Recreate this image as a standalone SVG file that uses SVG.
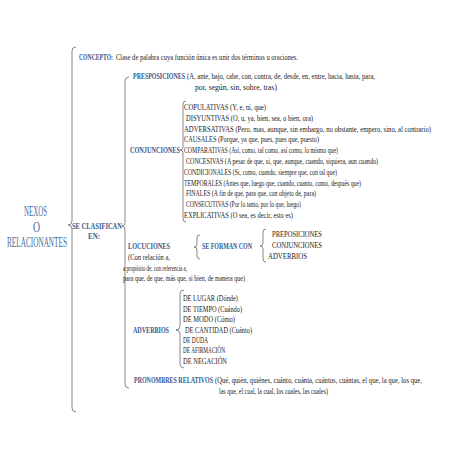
<svg xmlns="http://www.w3.org/2000/svg" width="452" height="452" viewBox="0 0 452 452">
<style>
text{font-family:"Liberation Serif","Times New Roman",serif;font-size:9.2px;fill:#222222}
.lb{fill:#35598e;font-weight:bold}
.big{fill:#4a6a9a;font-size:14px}
.br{fill:none;stroke:#6a6a6a;stroke-width:0.8}
</style>
<rect width="452" height="452" fill="#ffffff"/>
<g id="connectors">
<path class="br" d="M76,47 Q72,47 72,51 L72,221 Q72,225 68,225 Q72,225 72,229 L72,408 Q72,412 76,412"/>
<path class="br" d="M129,77 Q125,77 125,81 L125,222 Q125,226 122,226 Q125,226 125,230 L125,384 Q125,388 129,388"/>
<path class="br" d="M186,101 Q183,101 183,104 L183,147 Q183,150 180,150 Q183,150 183,153 L183,219 Q183,222 186,222"/>
<path class="br" d="M200,235 Q197,235 197,238 L197,244 Q197,247 194,247 Q197,247 197,250 L197,256 Q197,259 200,259"/>
<path class="br" d="M266,229 Q263,229 263,232 L263,243 Q263,246 260,246 Q263,246 263,249 L263,259 Q263,262 266,262"/>
<path class="br" d="M184,290 Q180,290 180,294 L180,326 Q180,330 176,330 Q180,330 180,334 L180,364 Q180,368 184,368"/>
</g>
<g id="root" transform="scale(0.5,1)">
<text class="big" x="48" y="216.5" textLength="46" lengthAdjust="spacingAndGlyphs">NEXOS</text>
<text class="big" x="66" y="232.5" textLength="14" lengthAdjust="spacingAndGlyphs">O</text>
<text class="big" x="14" y="247.5" textLength="120" lengthAdjust="spacingAndGlyphs">RELACIONANTES</text>
</g>
<g transform="scale(0.7,1)">
<g id="concepto">
<text class="lb" x="112.86" y="60" textLength="48.57" lengthAdjust="spacingAndGlyphs">CONCEPTO:</text>
<text x="165.71" y="60" textLength="260" lengthAdjust="spacingAndGlyphs">Clase de palabra cuya función única es unir dos términos u oraciones.</text>
</g>
<g id="clasifican">
<text class="lb" x="102.86" y="229" textLength="71.43" lengthAdjust="spacingAndGlyphs">SE CLASIFICAN</text>
<text class="lb" x="125.71" y="239" textLength="17.14" lengthAdjust="spacingAndGlyphs">EN:</text>
</g>
<g id="preposiciones">
<text class="lb" x="190" y="79" textLength="74.29" lengthAdjust="spacingAndGlyphs">PRESPOSICIONES</text>
<text x="267.14" y="79" textLength="268.57" lengthAdjust="spacingAndGlyphs">(A, ante, bajo, cabe, con, contra, de, desde, en, entre, hacia, hasta, para,</text>
<text x="278.57" y="90" textLength="117.14" lengthAdjust="spacingAndGlyphs">por, según, sin, sobre, tras)</text>
</g>
<g id="conjunciones">
<text class="lb" x="185.71" y="153" textLength="71.43" lengthAdjust="spacingAndGlyphs">CONJUNCIONES</text>
<text x="262.86" y="110" textLength="117.14" lengthAdjust="spacingAndGlyphs">COPULATIVAS (Y, e, ni, que)</text>
<text x="265.71" y="120.8" textLength="181.43" lengthAdjust="spacingAndGlyphs">DISYUNTIVAS  (O, u, ya, bien, sea, o bien, ora)</text>
<text x="262.86" y="131.6" textLength="352.86" lengthAdjust="spacingAndGlyphs">ADVERSATIVAS  (Pero, mas, aunque, sin embargo, no obstante, empero, sino, al contrario)</text>
<text x="262.86" y="142.4" textLength="192.86" lengthAdjust="spacingAndGlyphs">CAUSALES  (Porque, ya que, pues, pues que, puesto)</text>
<text x="262.86" y="153.2" textLength="220" lengthAdjust="spacingAndGlyphs">COMPARATIVAS  (Así, como, tal como, así como, lo mismo que)</text>
<text x="265.71" y="164" textLength="274.29" lengthAdjust="spacingAndGlyphs">CONCESIVAS  (A pesar de que, si, que, aunque, cuando, siquiera, aun cuando)</text>
<text x="262.86" y="174.8" textLength="218.57" lengthAdjust="spacingAndGlyphs">CONDICIONALES  (Si, como, cuando, siempre que, con tal que)</text>
<text x="262.86" y="185.6" textLength="252.86" lengthAdjust="spacingAndGlyphs">TEMPORALES  (Antes que, luego que, cuando, cuanto, como, después que)</text>
<text x="265.71" y="196.4" textLength="185.71" lengthAdjust="spacingAndGlyphs">FINALES (A fin de que, para que, con objeto de, para)</text>
<text x="265.71" y="207.2" textLength="164.29" lengthAdjust="spacingAndGlyphs">CONSECUTIVAS (Por lo tanto, por lo que, luego)</text>
<text x="262.86" y="218" textLength="155.71" lengthAdjust="spacingAndGlyphs">EXPLICATIVAS (O sea, es decir, esto es)</text>
</g>
<g id="locuciones">
<text class="lb" x="182.86" y="249" textLength="60" lengthAdjust="spacingAndGlyphs">LOCUCIONES</text>
<text x="182.86" y="260" textLength="60" lengthAdjust="spacingAndGlyphs">(Con relación a,</text>
<text x="175.71" y="271" textLength="91.43" lengthAdjust="spacingAndGlyphs">a propósito de, con referencia a,</text>
<text x="175.71" y="281" textLength="174.29" lengthAdjust="spacingAndGlyphs">para que, de que, más que, si bien, de manera que)</text>
</g>
<g id="forman">
<text class="lb" x="288.57" y="249" textLength="71.43" lengthAdjust="spacingAndGlyphs">SE FORMAN CON</text>
</g>
<g id="formas">
<text x="388.57" y="237" textLength="71.43" lengthAdjust="spacingAndGlyphs">PREPOSICIONES</text>
<text x="388.57" y="248" textLength="71.43" lengthAdjust="spacingAndGlyphs">CONJUNCIONES</text>
<text x="382.86" y="259" textLength="55.71" lengthAdjust="spacingAndGlyphs">ADVERBIOS</text>
</g>
<g id="adverbios">
<text class="lb" x="190" y="333" textLength="51.43" lengthAdjust="spacingAndGlyphs">ADVERBIOS</text>
<text x="261.43" y="301" textLength="78.57" lengthAdjust="spacingAndGlyphs">DE LUGAR (Dónde)</text>
<text x="261.43" y="312" textLength="84.29" lengthAdjust="spacingAndGlyphs">DE TIEMPO (Cuándo)</text>
<text x="261.43" y="322" textLength="74.29" lengthAdjust="spacingAndGlyphs">DE MODO (Cómo)</text>
<text x="264.29" y="333" textLength="95.71" lengthAdjust="spacingAndGlyphs">DE CANTIDAD (Cuánto)</text>
<text x="261.43" y="343" textLength="35.71" lengthAdjust="spacingAndGlyphs">DE DUDA</text>
<text x="261.43" y="353" textLength="60" lengthAdjust="spacingAndGlyphs">DE AFIRMACIÓN</text>
<text x="261.43" y="364" textLength="62.86" lengthAdjust="spacingAndGlyphs">DE NEGACIÓN</text>
</g>
<g id="pronombres">
<text class="lb" x="191.43" y="383" textLength="112.86" lengthAdjust="spacingAndGlyphs">PRONOMBRES RELATIVOS</text>
<text x="307.14" y="383" textLength="295.71" lengthAdjust="spacingAndGlyphs">(Qué, quién, quiénes, cuánto, cuánta, cuántos, cuántas, el que, la que, los que,</text>
<text x="312.86" y="394" textLength="155.71" lengthAdjust="spacingAndGlyphs">las que, el cual, la cual, los cuales, las cuales)</text>
</g>
</g>
</svg>
